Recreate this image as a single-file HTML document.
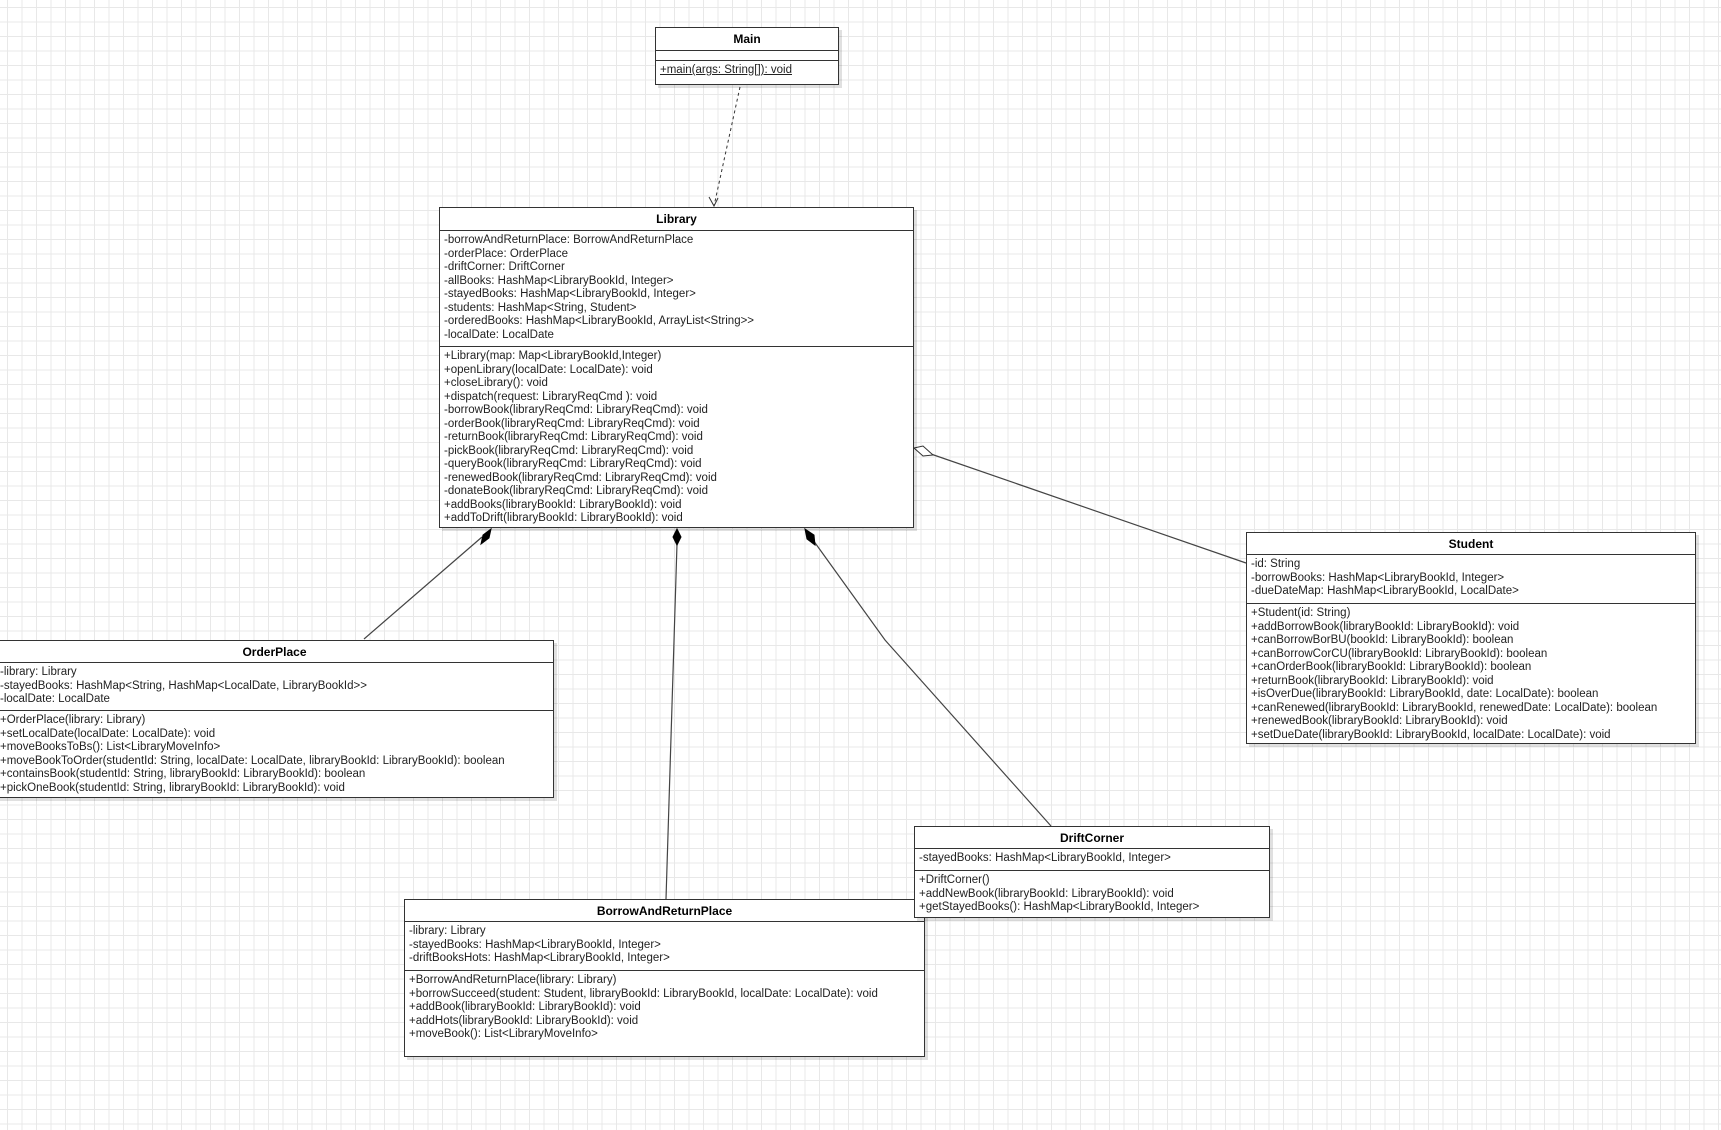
<!DOCTYPE html>
<html><head><meta charset="utf-8"><style>
body{margin:0;width:1721px;height:1130px;overflow:hidden;position:relative;background-color:#fff;
background-image:linear-gradient(#e8e8e8 1px,transparent 1px),linear-gradient(90deg,#e8e8e8 1px,transparent 1px);
background-size:14.5px 14.5px;background-position:7px 7px;font-family:"Liberation Sans",sans-serif;}
.box{position:absolute;background:#fff;border:1px solid #333;box-shadow:3px 3px 0 rgba(0,0,0,0.12);box-sizing:border-box;}
.h{font-weight:bold;font-size:12px;text-align:center;border-bottom:1px solid #333;box-sizing:border-box;display:flex;align-items:center;justify-content:center;}
.s{font-size:11.5px;line-height:13.5px;padding:3px 4px 2px;box-sizing:border-box;white-space:nowrap;color:#222;}
.b{border-bottom:1px solid #333;}
svg{position:absolute;left:0;top:0;}
</style></head><body>
<svg width="1721" height="1130">
<line x1="740" y1="87" x2="714" y2="206" stroke="#333" stroke-dasharray="3,3"/>
<polyline points="709,197 714,206 718,198" fill="none" stroke="#333"/>
<line x1="928" y1="453" x2="1246" y2="563" stroke="#444" stroke-width="1.2"/>
<polygon points="914,448 923,446 933,455 923,456" fill="#fff" stroke="#333"/>
<line x1="482" y1="537" x2="364" y2="639" stroke="#444" stroke-width="1.2"/>
<polygon points="491,529 489,538 481,544 483,535" fill="#000" stroke="#000"/>
<line x1="677" y1="544" x2="666" y2="899" stroke="#444" stroke-width="1.2"/>
<polygon points="677,529 681,537 677,545 673,537" fill="#000" stroke="#000"/>
<polyline points="813,540 885,640 1051,826" fill="none" stroke="#444" stroke-width="1.2"/>
<polygon points="805,529 814,535 815,545 807,539" fill="#000" stroke="#000"/>
</svg>

<div class="box" style="left:655px;top:27px;width:184px;height:58px">
<div class="h" style="height:23px">Main</div>
<div class="b" style="height:9px"></div>
<div class="s" style="text-decoration:underline">+main(args: String[]): void</div>
</div>

<div class="box" style="left:439px;top:207px;width:475px;height:321px">
<div class="h" style="height:23px">Library</div>
<div class="s b" style="height:116px">-borrowAndReturnPlace: BorrowAndReturnPlace<br>-orderPlace: OrderPlace<br>-driftCorner: DriftCorner<br>-allBooks: HashMap&lt;LibraryBookId, Integer&gt;<br>-stayedBooks: HashMap&lt;LibraryBookId, Integer&gt;<br>-students: HashMap&lt;String, Student&gt;<br>-orderedBooks: HashMap&lt;LibraryBookId, ArrayList&lt;String&gt;&gt;<br>-localDate: LocalDate</div>
<div class="s">+Library(map: Map&lt;LibraryBookId,Integer)<br>+openLibrary(localDate: LocalDate): void<br>+closeLibrary(): void<br>+dispatch(request: LibraryReqCmd ): void<br>-borrowBook(libraryReqCmd: LibraryReqCmd): void<br>-orderBook(libraryReqCmd: LibraryReqCmd): void<br>-returnBook(libraryReqCmd: LibraryReqCmd): void<br>-pickBook(libraryReqCmd: LibraryReqCmd): void<br>-queryBook(libraryReqCmd: LibraryReqCmd): void<br>-renewedBook(libraryReqCmd: LibraryReqCmd): void<br>-donateBook(libraryReqCmd: LibraryReqCmd): void<br>+addBooks(libraryBookId: LibraryBookId): void<br>+addToDrift(libraryBookId: LibraryBookId): void</div>
</div>

<div class="box" style="left:1246px;top:532px;width:450px;height:212px">
<div class="h" style="height:22px">Student</div>
<div class="s b" style="height:49px">-id: String<br>-borrowBooks: HashMap&lt;LibraryBookId, Integer&gt;<br>-dueDateMap: HashMap&lt;LibraryBookId, LocalDate&gt;</div>
<div class="s">+Student(id: String)<br>+addBorrowBook(libraryBookId: LibraryBookId): void<br>+canBorrowBorBU(bookId: LibraryBookId): boolean<br>+canBorrowCorCU(libraryBookId: LibraryBookId): boolean<br>+canOrderBook(libraryBookId: LibraryBookId): boolean<br>+returnBook(libraryBookId: LibraryBookId): void<br>+isOverDue(libraryBookId: LibraryBookId, date: LocalDate): boolean<br>+canRenewed(libraryBookId: LibraryBookId, renewedDate: LocalDate): boolean<br>+renewedBook(libraryBookId: LibraryBookId): void<br>+setDueDate(libraryBookId: LibraryBookId, localDate: LocalDate): void</div>
</div>

<div class="box" style="left:-5px;top:640px;width:559px;height:158px">
<div class="h" style="height:22px">OrderPlace</div>
<div class="s b" style="height:48px">-library: Library<br>-stayedBooks: HashMap&lt;String, HashMap&lt;LocalDate, LibraryBookId&gt;&gt;<br>-localDate: LocalDate</div>
<div class="s">+OrderPlace(library: Library)<br>+setLocalDate(localDate: LocalDate): void<br>+moveBooksToBs(): List&lt;LibraryMoveInfo&gt;<br>+moveBookToOrder(studentId: String, localDate: LocalDate, libraryBookId: LibraryBookId): boolean<br>+containsBook(studentId: String, libraryBookId: LibraryBookId): boolean<br>+pickOneBook(studentId: String, libraryBookId: LibraryBookId): void</div>
</div>

<div class="box" style="left:404px;top:899px;width:521px;height:158px">
<div class="h" style="height:22px">BorrowAndReturnPlace</div>
<div class="s b" style="height:49px">-library: Library<br>-stayedBooks: HashMap&lt;LibraryBookId, Integer&gt;<br>-driftBooksHots: HashMap&lt;LibraryBookId, Integer&gt;</div>
<div class="s">+BorrowAndReturnPlace(library: Library)<br>+borrowSucceed(student: Student, libraryBookId: LibraryBookId, localDate: LocalDate): void<br>+addBook(libraryBookId: LibraryBookId): void<br>+addHots(libraryBookId: LibraryBookId): void<br>+moveBook(): List&lt;LibraryMoveInfo&gt;</div>
</div>

<div class="box" style="left:914px;top:826px;width:356px;height:92px">
<div class="h" style="height:22px">DriftCorner</div>
<div class="s b" style="height:22px">-stayedBooks: HashMap&lt;LibraryBookId, Integer&gt;</div>
<div class="s">+DriftCorner()<br>+addNewBook(libraryBookId: LibraryBookId): void<br>+getStayedBooks(): HashMap&lt;LibraryBookId, Integer&gt;</div>
</div>
</body></html>
